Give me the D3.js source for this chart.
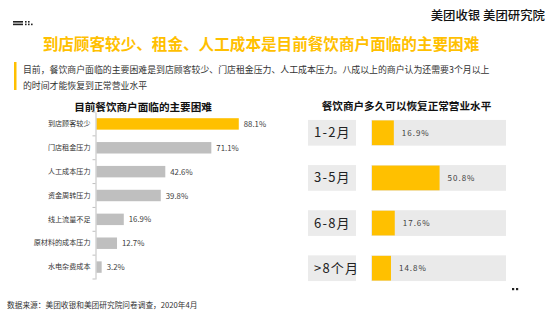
<!DOCTYPE html>
<html><head><meta charset="utf-8">
<script src="https://cdn.jsdelivr.net/npm/d3@7/dist/d3.min.js"></script>
<style>body{margin:0;background:#fff}svg{display:block;font-family:"Noto Sans CJK SC","Noto Sans",sans-serif}</style>
</head><body><svg id="c" width="554" height="316"></svg>
<script>
const mainTitle = "到店顾客较少、租金、人工成本是目前餐饮商户面临的主要困难";
const brandText = "美团收银 美团研究院";
const summaryLines = ["目前，餐饮商户面临的主要困难是到店顾客较少、门店租金压力、人工成本压力。八成以上的商户认为还需要3个月以上", "的时间才能恢复到正常营业水平"];
const leftTitle = "目前餐饮商户面临的主要困难";
const difficulties = ["到店顾客较少","门店租金压力","人工成本压力","资金周转压力","线上流量不足","原材料的成本压力","水电杂费成本"];
const difficultyValues = [88.1,71.1,42.6,39.8,16.9,12.7,3.2];
const rightTitle = "餐饮商户多久可以恢复正常营业水平";
const periods = ["1-2月","3-5月","6-8月",">8个月"];
const periodValues = [16.9,50.8,17.6,14.8];
const sourceText = "数据来源：美团收银和美团研究院问卷调查，2020年4月";

const svg = d3.select("#c");
const yellow = "#FFC000";

// logo
const logo = svg.append("g").attr("fill","#222");
logo.append("rect").attr("x",13).attr("y",21).attr("width",10).attr("height",1.6);
logo.append("rect").attr("x",13).attr("y",23.6).attr("width",10).attr("height",1.6);
[[25,21],[28,21],[25,23.6],[28,23.6],[31,23.6]].forEach(p=>logo.append("rect").attr("x",p[0]).attr("y",p[1]).attr("width",1.6).attr("height",1.6));

svg.append("text").attr("x",545).attr("y",19.5).attr("text-anchor","end").attr("font-size",12.4).attr("font-weight",500).attr("fill","#111").text(brandText);

svg.append("text").attr("x",261).attr("y",50).attr("text-anchor","middle").attr("font-size",15.6).attr("font-weight",700).attr("fill",yellow).text(mainTitle);

svg.append("rect").attr("x",14).attr("y",62).attr("width",2.5).attr("height",28).attr("fill",yellow);
summaryLines.forEach((t,i)=>svg.append("text").attr("x",23).attr("y",72.5+i*16).attr("font-size",8.9).attr("fill","#333").text(t));

// left chart
svg.append("text").attr("x",143).attr("y",110.5).attr("text-anchor","middle").attr("font-size",10.6).attr("font-weight",700).attr("fill","#111").text(leftTitle);

const yL = d3.scaleBand().domain(difficulties).range([112,279]).paddingInner(0.52).paddingOuter(0.26);
const xL = d3.scaleLinear().domain([0,100]).range([96.5,258]);
const gL = svg.append("g");
gL.selectAll("rect.b").data(difficulties).join("rect").attr("class","b")
  .attr("x",xL(0)).attr("y",d=>yL(d)).attr("height",yL.bandwidth())
  .attr("width",(d,i)=>xL(difficultyValues[i])-xL(0))
  .attr("fill",(d,i)=>i===0?yellow:"#BFBFBF");
gL.selectAll("text.v").data(difficulties).join("text").attr("class","v")
  .attr("x",(d,i)=>xL(difficultyValues[i])+5).attr("y",d=>yL(d)+yL.bandwidth()/2+3)
  .attr("font-size",7.8).attr("fill","#404040").text((d,i)=>difficultyValues[i].toFixed(1)+"%");
const axL = d3.axisLeft(yL).tickSize(3).tickSizeOuter(0);
const ga = svg.append("g").attr("transform",`translate(95.5,0)`).call(axL);
ga.select(".domain").attr("stroke","#BFBFBF");
ga.selectAll(".tick line").remove();
ga.selectAll(".tick text").attr("font-size",7.1).attr("fill","#333").attr("x",-5).attr("font-family","'Noto Sans CJK SC',sans-serif");
const bounds = difficulties.map(d=>yL(d)-yL.step()*yL.paddingInner()/2).concat([279]);
ga.selectAll("line.bt").data(bounds).join("line").attr("class","bt").attr("x1",-3).attr("x2",0).attr("y1",d=>d).attr("y2",d=>d).attr("stroke","#BFBFBF");

// right chart
svg.append("text").attr("x",406.5).attr("y",110).attr("text-anchor","middle").attr("font-size",10.6).attr("font-weight",700).attr("fill","#111").text(rightTitle);
const yR = d3.scaleBand().domain(periods).range([110,291]).paddingInner(0.43).paddingOuter(0.22);
const xR = d3.scaleLinear().domain([0,100]).range([371,506]);
const gR = svg.append("g");
gR.selectAll("rect.lb").data(periods).join("rect").attr("class","lb")
  .attr("x",308).attr("y",d=>yR(d)).attr("width",48).attr("height",yR.bandwidth()).attr("fill","#EBEBEB");
gR.selectAll("text.lt").data(periods).join("text").attr("class","lt")
  .attr("x",314).attr("y",d=>yR(d)+yR.bandwidth()/2+4.5).attr("font-size",13).attr("letter-spacing",1.2).attr("fill","#222").text(d=>d);
gR.selectAll("rect.bg").data(periods).join("rect").attr("class","bg")
  .attr("x",xR(0)).attr("y",d=>yR(d)).attr("width",xR(100)-xR(0)).attr("height",yR.bandwidth()).attr("fill","#EAEAEA");
gR.selectAll("rect.fg").data(periods).join("rect").attr("class","fg")
  .attr("x",xR(0)+1).attr("y",d=>yR(d)+0.5).attr("width",(d,i)=>xR(periodValues[i])-xR(0)-1).attr("height",yR.bandwidth()-1).attr("fill",yellow);
gR.selectAll("text.pv").data(periods).join("text").attr("class","pv")
  .attr("x",(d,i)=>xR(periodValues[i])+8).attr("y",d=>yR(d)+yR.bandwidth()/2+3)
  .attr("font-size",8).attr("letter-spacing",1).attr("fill","#404040").text((d,i)=>periodValues[i].toFixed(1)+"%");

svg.append("rect").attr("x",512).attr("y",288).attr("width",2.2).attr("height",2.2).attr("fill","#222");
svg.append("rect").attr("x",516).attr("y",288).attr("width",2.2).attr("height",2.2).attr("fill","#222");

svg.append("text").attr("x",7).attr("y",308).attr("font-size",7.7).attr("fill","#333").text(sourceText);
</script></body></html>
